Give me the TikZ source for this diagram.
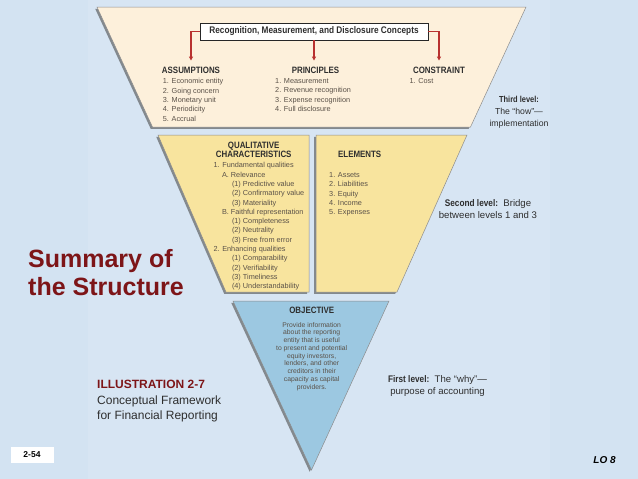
\documentclass[tikz,border=0pt]{standalone}
\usepackage{fontspec}
\setmainfont{Liberation Sans}
\newfontfamily\headfont[FakeStretch=0.86]{Liberation Sans}
\usepackage{xcolor}
\usetikzlibrary{arrows.meta,positioning,shadows}

\definecolor{bgblue}{HTML}{D3E3F2}
\definecolor{panelblue}{HTML}{D7E5F3}
\definecolor{creamfill}{HTML}{FDF0DB}
\definecolor{yellowfill}{HTML}{F8E49E}
\definecolor{bluefill}{HTML}{9CC8E1}
\definecolor{darkred}{HTML}{7D1518}
\definecolor{arrowred}{HTML}{B8312F}
\definecolor{textgray}{HTML}{5A5148}
\definecolor{headgray}{HTML}{2E2E2E}

\newcommand{\indentone}{\hspace*{8.5pt}}
\newcommand{\indenttwo}{\hspace*{18.5pt}}

\begin{document}
\begin{tikzpicture}[x=1pt, y=-1pt,
    levelshape/.style={fill=#1, draw=black!45, line width=0.5pt,
                       drop shadow={shadow xshift=-1.8pt, shadow yshift=-1.8pt, fill=black!70, opacity=0.6}},
    heading/.style={font=\headfont\bfseries\fontsize{9.2}{9.3}\selectfont, text=headgray, align=center, inner sep=0pt},
    itemlist/.style={font=\fontsize{7.3}{9.3}\selectfont, text=textgray, align=left, anchor=north west, inner sep=0pt},
    levelnote/.style={font=\fontsize{9.6}{12}\selectfont, text=headgray, align=center, inner sep=0pt},
    redarrow/.style={-{Triangle[length=4pt, width=4pt]}, draw=arrowred, line width=1.1pt, shorten >=6pt}
]

%% Background
\useasboundingbox (0,0) rectangle (638,479);
\fill[bgblue] (0,0) rectangle (638,479);
\fill[panelblue] (88,0) rectangle (550,479);

%% Third level: implementation
\path[levelshape=creamfill] (97,7) -- (526,7) -- (470.5,127) -- (152.5,127) -- cycle;
\node[draw=black!85, line width=0.9pt, fill=white, minimum width=228pt, minimum height=17pt,
      inner sep=0pt, font=\headfont\bfseries\fontsize{9.6}{10}\selectfont, text=headgray] (rmd) at (314,31.5)
      {Recognition, Measurement, and Disclosure Concepts};
\node[heading] (assump) at (191,70) {ASSUMPTIONS};
\node[heading] (princ) at (315.5,70) {PRINCIPLES};
\node[heading] (constr) at (439,70) {CONSTRAINT};
\node[itemlist] (assumplist) at (162.7,78.4) {1. Economic entity\\2. Going concern\\3. Monetary unit\\4. Periodicity\\5. Accrual};
\node[itemlist] (princlist) at (275,78.4) {1. Measurement\\2. Revenue recognition\\3. Expense recognition\\4. Full disclosure};
\node[itemlist] (constrlist) at (409.3,78.4) {1. Cost};

\draw[redarrow] (rmd.west) -| (assump.north);
\draw[redarrow] (rmd.south) -- (rmd.south |- princ.north);
\draw[redarrow] (rmd.east) -| (constr.north);

%% Second level: bridge
\path[levelshape=yellowfill] (158,135) -- (309,135) -- (309,292) -- (226,292) -- cycle;
\path[levelshape=yellowfill] (316,135) -- (467,135) -- (397,292) -- (316,292) -- cycle;
\node[heading, anchor=north] (qual) at (253.7,141.7) {QUALITATIVE\\CHARACTERISTICS};
\node[itemlist] (quallist) at (213.3,162.4) {1. Fundamental qualities\\
  \indentone A. Relevance\\
  \indenttwo (1) Predictive value\\
  \indenttwo (2) Confirmatory value\\
  \indenttwo (3) Materiality\\
  \indentone B. Faithful representation\\
  \indenttwo (1) Completeness\\
  \indenttwo (2) Neutrality\\
  \indenttwo (3) Free from error\\
  2. Enhancing qualities\\
  \indenttwo (1) Comparability\\
  \indenttwo (2) Verifiability\\
  \indenttwo (3) Timeliness\\
  \indenttwo (4) Understandability};
\node[heading] (elem) at (359.7,154) {ELEMENTS};
\node[itemlist] (elemlist) at (329,172.4) {1. Assets\\2. Liabilities\\3. Equity\\4. Income\\5. Expenses};

%% First level: objective
\path[levelshape=bluefill] (233,301) -- (389,301) -- (311.5,470) -- cycle;
\node[heading] (obj) at (311.7,310) {OBJECTIVE};
\node[itemlist, anchor=north, align=center, font=\fontsize{6.8}{7.75}\selectfont] (objtext) at (311.7,322)
      {Provide information\\about the reporting\\entity that is useful\\to present and potential\\equity investors,\\lenders, and other\\creditors in their\\capacity as capital\\providers.};

%% Level notes
\node[levelnote, font=\fontsize{8.7}{12}\selectfont] (third) at (519,112) {{\headfont\bfseries Third level:}\\The “how”—\\implementation};
\node[levelnote] (second) at (488,209) {{\headfont\bfseries Second level:}~~Bridge\\between levels 1 and 3};
\node[levelnote] (first) at (437.5,386) {{\headfont\bfseries First level:}~~The “why”—\\purpose of accounting};

%% Slide texts
\node[anchor=north west, align=left, inner sep=0pt, text=darkred,
      font=\bfseries\fontsize{25}{28}\selectfont] (summary) at (28,249) {Summary of\\the Structure};
\node[anchor=north west, align=left, inner sep=0pt, text=headgray,
      font=\fontsize{12}{15.5}\selectfont] (illus) at (97,380.4)
      {\textcolor{darkred}{\bfseries ILLUSTRATION 2-7}\\Conceptual Framework\\for Financial Reporting};
\node[fill=white, minimum width=43pt, minimum height=16pt, inner sep=0pt,
      font=\bfseries\fontsize{8.5}{10}\selectfont] (pagenum) at (32,455) {2-54};
\node[inner sep=0pt, font=\bfseries\itshape\fontsize{10}{12}\selectfont] (lo) at (604.5,460) {LO 8};

\end{tikzpicture}
\end{document}
